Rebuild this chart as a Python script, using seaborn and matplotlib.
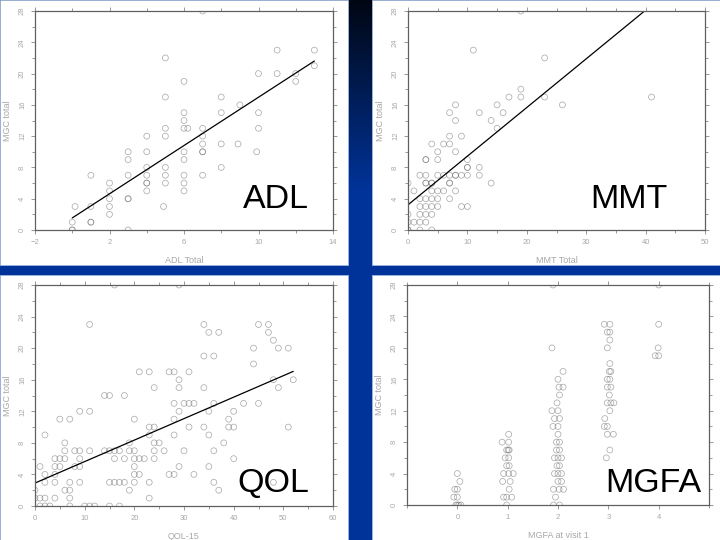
import numpy as np
import pandas as pd
import seaborn as sns
import matplotlib.pyplot as plt
from matplotlib.patches import Rectangle
from matplotlib.ticker import MultipleLocator

# ADL Total vs MGC total
adl_x = [0, 0, 0, 0.15, 1, 1, 1, 1, 2, 2, 2, 2, 2, 3, 3, 3, 3, 3, 3,
         4, 4, 4, 4, 4, 4, 4, 4.9, 5, 5, 5, 5, 5, 5, 5,
         6, 6, 6, 6, 6.2, 6, 6, 6, 6, 6, 7, 7, 7, 7, 7, 7, 7,
         8, 8, 8, 8, 9, 8.9, 10, 10, 10, 9.9, 11, 11, 12, 12, 13, 13]
adl_y = [0, 0, 1, 3, 7, 3, 1, 1, 6, 5, 4, 3, 2, 10, 9, 7, 4, 4, 0,
         12, 10, 8, 7, 6, 6, 5, 3, 22, 17, 13, 12, 8, 7, 6,
         19, 15, 14, 13, 13, 10, 9, 7, 6, 5, 13, 12, 11, 10, 10, 7, 28,
         17, 15, 11, 8, 16, 11, 20, 15, 13, 10, 23, 20, 20, 19, 23, 21]

# MMT Total vs MGC total
mmt_x = [0, 0, 2, 4, 0, 0, 1, 0, 1, 2, 3, 2, 3, 4, 2, 3, 4, 5, 2, 3, 4, 5,
         4, 5, 6, 3, 3, 4, 4, 2, 3, 5, 6, 7, 8, 8, 9, 10, 7, 7, 8, 7,
         3, 3, 5, 5, 4, 6, 7, 8, 7, 9, 8, 8, 7, 10, 10, 10, 12, 12, 12,
         11, 9, 10, 14, 14, 15, 15, 16, 17, 19, 19, 19, 23, 23, 26, 41]
mmt_y = [0, 0, 0, 0, 2, 6, 5, 1, 1, 1, 1, 2, 2, 2, 3, 3, 3, 3, 4, 4, 4, 4,
         5, 5, 5, 6, 6, 6, 6, 7, 7, 7, 7, 7, 7, 7, 7, 7, 6, 6, 5, 4,
         9, 9, 9, 10, 11, 11, 11, 10, 12, 12, 14, 16, 15, 8, 8, 9, 8, 7, 15,
         23, 3, 3, 6, 14, 16, 13, 15, 17, 18, 17, 28, 22, 17, 16, 17]

# QOL-15 vs MGC total
qol_x = [16, 29, 11, 34, 45, 47, 35, 37, 47, 48, 44, 49, 51, 34, 36, 44,
         21, 23, 27, 28, 31, 29, 48, 52, 24, 29, 34, 49, 14, 15, 18,
         28, 30, 31, 32, 36, 42, 45, 9, 11, 29, 35, 40, 5, 7, 20, 28, 39,
         23, 24, 31, 34, 39, 40, 51, 2, 23, 28, 35, 6, 24, 25, 19, 38,
         6, 8, 9, 11, 14, 15, 16, 17, 19, 20, 24, 26, 30, 36,
         4, 5, 6, 9, 16, 18, 20, 21, 22, 24, 40,
         1, 4, 5, 8, 9, 20, 29, 35, 2, 4, 20, 21, 27, 28, 32,
         2, 4, 7, 9, 15, 16, 17, 18, 20, 23, 36, 48,
         0, 6, 7, 19, 37, 0, 1, 2, 4, 7, 23,
         1, 2, 3, 7, 10, 11, 12, 15, 17]
qol_y = [28, 28, 23, 23, 23, 23, 22, 22, 22, 21, 20, 20, 20, 19, 19, 18,
         17, 17, 17, 17, 17, 16, 16, 16, 15, 15, 15, 15, 14, 14, 14,
         13, 13, 13, 13, 13, 13, 13, 12, 12, 12, 12, 12, 11, 11, 11, 11, 11,
         10, 10, 10, 10, 10, 10, 10, 9, 9, 9, 9, 8, 8, 8, 8, 8,
         7, 7, 7, 7, 7, 7, 7, 7, 7, 7, 7, 7, 7, 7,
         6, 6, 6, 6, 6, 6, 6, 6, 6, 6, 6,
         5, 5, 5, 5, 5, 5, 5, 5, 4, 4, 4, 4, 4, 4, 4,
         3, 3, 3, 3, 3, 3, 3, 3, 3, 3, 3, 3,
         2, 2, 2, 2, 2, 1, 1, 1, 1, 1, 1,
         0, 0, 0, 0, 0, 0, 0, 0, 0]

# MGFA class at visit 1 vs MGC total (horizontal spread as read)
mgfa_x = [-0.03, 0, 0.03, 0.07, -0.07, 0, -0.05, 0, 0.05, 0,
          1.02, 0.89, 1.02, 0.98, 1.03, 1.01, 0.95, 1.02, 0.98, 1.03,
          0.92, 1.02, 1.11, 0.90, 1.05, 1.03, 0.92, 0.98, 1.08, 0.98,
          1.90, 1.88, 2.10, 2.0, 2.02, 2.10, 2.03, 1.98, 1.88, 2.0,
          1.93, 2.03, 1.90, 2.0, 2.0, 1.97, 2.03, 1.97, 2.03,
          1.93, 2.0, 2.07, 1.98, 2.03, 1.93, 2.0, 2.07, 2.0, 2.07,
          1.91, 2.02, 2.11, 1.95, 1.91, 2.03,
          2.92, 3.03, 2.98, 3.03, 3.03, 2.98, 3.03, 3.02, 3.05, 2.98, 3.03,
          2.98, 3.05, 3.02, 2.98, 3.05, 3.11, 3.03, 2.93, 2.92, 2.98,
          2.98, 3.10, 3.03, 2.96,
          4.0, 4.0, 3.99, 3.93, 4.0]
mgfa_y = [0, 0, 0, 0, 1, 1, 2, 2, 3, 4,
          9, 8, 8, 7, 7, 7, 6, 6, 5, 5,
          4, 4, 4, 3, 3, 2, 1, 1, 1, 0,
          28, 20, 17, 16, 15, 15, 14, 13, 12, 12,
          11, 11, 10, 10, 9, 8, 8, 7, 7,
          6, 6, 6, 5, 5, 4, 4, 4, 3, 3,
          2, 2, 2, 1, 0, 0,
          23, 23, 22, 22, 21, 20, 18, 17, 17, 16, 16,
          15, 15, 14, 13, 13, 13, 12, 11, 10, 10,
          9, 9, 7, 6,
          28, 23, 20, 19, 19]

panels = [
    # x, y, xlabel, big label, xlim, major, minor, axes box (px), label pos, fit line
    (adl_x, adl_y, "ADL Total", "ADL", (-2, 14), np.arange(-2, 15, 4), 2,
     (35, 11, 333, 230), (0.809, 0.137), True),
    (mmt_x, mmt_y, "MMT Total", "MMT", (0, 50), np.arange(0, 51, 10), 5,
     (408, 11, 705, 230), (0.744, 0.137), True),
    (qol_x, qol_y, "QOL-15", "QOL", (0, 60), np.arange(0, 61, 10), 5,
     (35, 285, 333, 506), (0.80, 0.104), True),
    (mgfa_x, mgfa_y, "MGFA at visit 1", "MGFA", (-1, 5), np.arange(0, 5, 1), 1,
     (407, 285, 709, 505), (0.815, 0.10), False),
]

sns.set_style("ticks")
plt.rcParams['font.family'] = ['Liberation Sans', 'DejaVu Sans']

W, H = 720, 540
fig = plt.figure(figsize=(7.2, 5.4), dpi=100)

# slide background: dark-to-blue gradient with white panels
bg = fig.add_axes([0, 0, 1, 1], zorder=-1)
top = np.array([0, 6, 18]) / 255
blue = np.array([0, 51, 153]) / 255
t = np.clip(np.arange(H) / 190.0, 0, 1)[:, None]
grad = (top * (1 - t) + blue * t)[:, None, :]
bg.imshow(grad, aspect='auto', extent=[0, W, H, 0])
for (x0, y0, x1, y1) in [(0, 0, 348, 265), (372, 0, 720, 265),
                         (0, 275, 348, 540), (372, 275, 720, 540)]:
    bg.add_patch(Rectangle((x0, y0), x1 - x0, y1 - y0, facecolor='white',
                           edgecolor='#9fb7e0', lw=0.6))
bg.set_xlim(0, W)
bg.set_ylim(H, 0)
bg.axis('off')

tick_col = '#a8a8a8'
for xs, ys, xlabel, big, xlim, major, minor, box, lpos, fit in panels:
    l, tp, r, b = box
    ax = fig.add_axes([l / W, (H - b) / H, (r - l) / W, (b - tp) / H])
    df = pd.DataFrame({'x': xs, 'y': ys})
    sns.scatterplot(data=df, x='x', y='y', ax=ax, s=18, marker='o',
                    facecolor='none', edgecolor='#6a6a6a', linewidth=0.55,
                    alpha=0.55)
    if fit:
        sns.regplot(data=df, x='x', y='y', ax=ax, scatter=False, ci=None,
                    color='black', line_kws={'lw': 0.9})
    ax.set_xlim(*xlim)
    ax.set_ylim(0, 28)
    ax.set_xticks(major)
    ax.xaxis.set_minor_locator(MultipleLocator(minor))
    ax.set_yticks(np.arange(0, 29, 4))
    ax.yaxis.set_minor_locator(MultipleLocator(2))
    ax.tick_params(which='both', direction='out', top=True, right=True,
                   color='#888888', width=0.6, labelsize=5.5,
                   labelcolor=tick_col)
    ax.tick_params(which='major', length=3)
    ax.tick_params(which='minor', length=2)
    for lab in ax.get_yticklabels():
        lab.set_rotation(90)
        lab.set_va('center')
    for sp in ax.spines.values():
        sp.set_color('#606060')
        sp.set_linewidth(0.9)
    ax.set_xlabel(xlabel, fontsize=6.5, color=tick_col, labelpad=7)
    ax.set_ylabel("MGC total", fontsize=6.5, color=tick_col, labelpad=5)
    ax.text(lpos[0], lpos[1], big, transform=ax.transAxes, ha='center',
            va='center', fontsize=24.5, color='black')

fig.savefig("out.png", dpi=100)
